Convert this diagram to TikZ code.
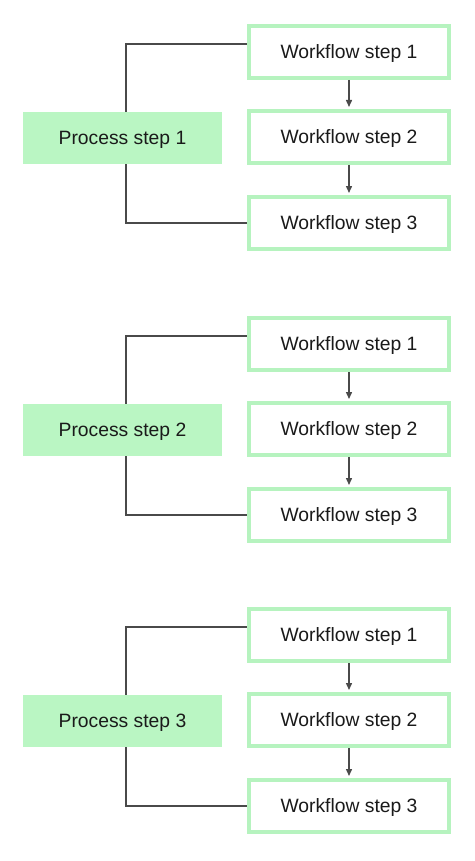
\documentclass[tikz,border=0pt]{standalone}
\usepackage{fontspec}
\setmainfont{Liberation Sans}
\usetikzlibrary{arrows.meta}
\definecolor{procfill}{HTML}{BAF6C3}
\definecolor{boxline}{HTML}{B6F3BF}
\definecolor{connline}{HTML}{4A4A4A}
\definecolor{txt}{HTML}{1A1A1A}
\tikzset{
  lbl/.style={text=txt, font=\fontsize{19.3}{22}\selectfont, text height=14pt, text depth=0.6pt},
  wfbox/.style={lbl, draw=boxline, line width=4pt, fill=white, minimum width=200pt, minimum height=52pt, inner sep=0pt},
  procbox/.style={lbl, fill=procfill, minimum width=199pt, minimum height=52pt, inner sep=0pt},
  conn/.style={draw=connline, line width=1.4pt},
  flow/.style={draw=connline, line width=1.4pt, -{Triangle[length=7pt,width=6pt]}}
}
\begin{document}
\begin{tikzpicture}[x=1pt,y=-1pt]
\fill[white] (0,0) rectangle (474,861);
\useasboundingbox (0,0) rectangle (474,861);
\foreach \d/\n in {0/1,292/2,583/3}{
  \node[wfbox] (w\n a) at (349,52+\d) {Workflow step 1};
  \node[wfbox] (w\n b) at (349,137+\d) {Workflow step 2};
  \node[wfbox] (w\n c) at (349,223+\d) {Workflow step 3};
  \node[procbox] (p\n) at (122.5,138+\d) {Process step \n};
  \draw[conn] ([xshift=3.5pt]p\n.north) |- ([yshift=8pt]w\n a.west);
  \draw[conn] ([xshift=3.5pt]p\n.south) |- (w\n c.west);
  \draw[flow] (w\n a.south) -- ([yshift=2pt]w\n b.north);
  \draw[flow] (w\n b.south) -- ([yshift=2pt]w\n c.north);
}
\end{tikzpicture}
\end{document}
